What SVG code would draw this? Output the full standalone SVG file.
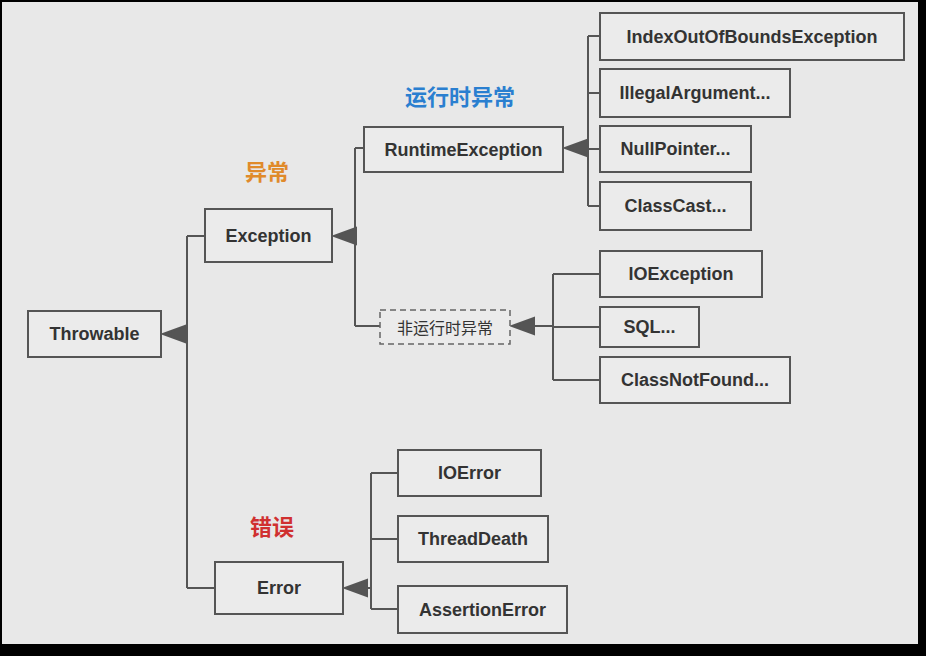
<svg xmlns="http://www.w3.org/2000/svg" width="926" height="656" viewBox="0 0 926 656">
<style>
.n rect{fill:#ebebeb;stroke:#555;stroke-width:2}
.n text{font-family:"Liberation Sans",sans-serif;font-weight:bold;font-size:18px;fill:#333;text-anchor:middle;dominant-baseline:central}
.c{fill:none;stroke:#555;stroke-width:2}
.h{fill:#555}
.lb{font-family:"Noto Sans CJK SC",sans-serif;font-weight:bold;font-size:22px;text-anchor:middle}
</style>
<rect width="926" height="656" fill="#000"/>
<rect x="2" y="2" width="916" height="642" fill="#e8e8e8"/>
<g id="connectors" class="c">
<path d="M187,334 H163"/><path class="h" d="M163,334 l22,-8 v16 z"/>
<path d="M187,236 V588 M187,236 H205 M187,588 H215"/>
<path d="M355,236 H334"/><path class="h" d="M334,236 l22,-8 v16 z"/>
<path d="M355,148 V326 M355,148 H364 M355,326 H380"/>
<path d="M588,148 H565"/><path class="h" d="M565,148 l22,-8 v16 z"/>
<path d="M588,36 V206 M588,36 H600 M588,93 H600 M588,149 H600 M588,206 H600"/>
<path d="M553,326 H512"/><path class="h" d="M512,326 l22,-8 v16 z"/>
<path d="M553,274 V380 M553,274 H600 M553,327 H600 M553,380 H600"/>
<path d="M371,588 H345"/><path class="h" d="M345,588 l22,-8 v16 z"/>
<path d="M371,473 V609 M371,473 H398 M371,539 H398 M371,609 H398"/>
</g>
<g id="throwable" class="n"><rect x="28" y="311" width="133" height="46"/><text x="94.5" y="334">Throwable</text></g>
<g id="exception" class="n"><rect x="205" y="209" width="127" height="53"/><text x="268.5" y="235.5">Exception</text></g>
<g id="error" class="n"><rect x="215" y="562" width="128" height="52"/><text x="279" y="588">Error</text></g>
<g id="runtime" class="n"><rect x="364" y="127" width="199" height="45"/><text x="463.5" y="149.5">RuntimeException</text></g>
<g id="checked" class="n"><rect x="380" y="310" width="130" height="34" style="stroke-dasharray:6 4;stroke-width:1.5;stroke:#666"/><text x="445" y="327" style="font-family:'Noto Sans CJK SC',sans-serif;font-weight:normal;font-size:16px">非运行时异常</text></g>
<g id="ioob" class="n"><rect x="600" y="13" width="304" height="47"/><text x="752" y="36.5">IndexOutOfBoundsException</text></g>
<g id="illegal" class="n"><rect x="600" y="69" width="190" height="48"/><text x="695" y="93">IllegalArgument...</text></g>
<g id="npe" class="n"><rect x="600" y="126" width="151" height="46"/><text x="675.5" y="149">NullPointer...</text></g>
<g id="cce" class="n"><rect x="600" y="182" width="151" height="48"/><text x="675.5" y="206">ClassCast...</text></g>
<g id="ioe" class="n"><rect x="600" y="251" width="162" height="46"/><text x="681" y="274">IOException</text></g>
<g id="sql" class="n"><rect x="600" y="307" width="99" height="40"/><text x="649.5" y="327">SQL...</text></g>
<g id="cnf" class="n"><rect x="600" y="357" width="190" height="46"/><text x="695" y="380">ClassNotFound...</text></g>
<g id="ioerror" class="n"><rect x="398" y="450" width="143" height="46"/><text x="469.5" y="473">IOError</text></g>
<g id="td" class="n"><rect x="398" y="516" width="150" height="46"/><text x="473" y="539">ThreadDeath</text></g>
<g id="ae" class="n"><rect x="398" y="586" width="169" height="47"/><text x="482.5" y="609.5">AssertionError</text></g>
<text class="lb" x="460" y="105" fill="#2a7fd0">运行时异常</text>
<text class="lb" x="267" y="180" fill="#e08a2a">异常</text>
<text class="lb" x="272" y="535" fill="#d03030">错误</text>
</svg>
